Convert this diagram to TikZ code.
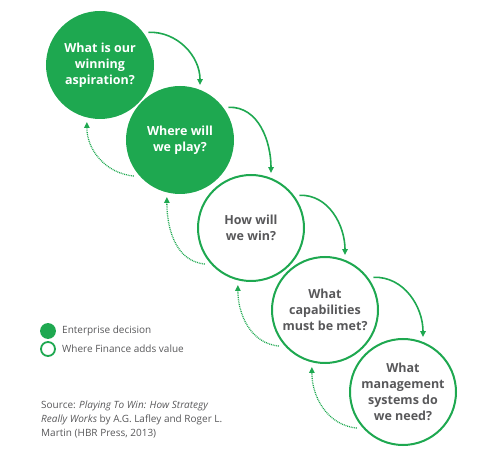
\documentclass[tikz,border=0pt]{standalone}
\usepackage{fontspec}
\setmainfont{Open Sans}
\usetikzlibrary{arrows.meta,calc}
\definecolor{pgreen}{RGB}{30,168,80}
\definecolor{tgray}{RGB}{88,88,90}
\begin{document}
\begin{tikzpicture}[x=1pt,y=1pt,
  bubble/.style={circle,minimum size=106pt,inner sep=0pt,outer sep=5.5pt,line width=2pt,draw=pgreen,align=center,font=\fontsize{12.5}{16}\selectfont\bfseries},
  filledb/.style={bubble,fill=pgreen,text=white},
  openb/.style={bubble,fill=white,text=tgray},
  fwd/.style={draw=pgreen,line width=1.6pt,-{Triangle[length=6pt,width=5.5pt]}},
  bwd/.style={draw=pgreen,line width=1.3pt,dash pattern=on 0.9pt off 0.9pt,-{Triangle[length=6pt,width=5.5pt]}},
  legtext/.style={anchor=west,text=tgray,font=\fontsize{10}{12}\selectfont,inner sep=0pt},
  legdot/.style={circle,minimum size=14pt,inner sep=0pt,draw=pgreen,line width=1.8pt}
]
\useasboundingbox (0,0) rectangle (480,464);
\node[filledb] (c1) at (100,399) {What is our\\winning\\aspiration?};
\node[filledb] (c2) at (180,324) {Where will\\we play?};
\node[openb] (c3) at (251,236) {How will\\we win?};
\node[openb] (c4) at (325,154) {What\\capabilities\\must be met?};
\node[openb] (c5) at (403,72) {What\\management\\systems do\\we need?};

\draw[fwd] (c1.34) to[out=2,in=90] (c2.70);
\draw[fwd] (c2.34) to[out=2,in=90] (c3.70);
\draw[fwd] (c3.34) to[out=2,in=90] (c4.70);
\draw[fwd] (c4.34) to[out=2,in=90] (c5.70);

\draw[bwd] (c2.218) to[out=175,in=-90] (c1.257);
\draw[bwd] (c3.218) to[out=175,in=-90] (c2.257);
\draw[bwd] (c4.218) to[out=175,in=-90] (c3.257);
\draw[bwd] (c5.218) to[out=175,in=-90] (c4.257);

\node[legdot,fill=pgreen] (l1) at (48,133) {};
\node[legdot,fill=white] (l2) at (48,115) {};
\node[legtext] (t1) at (62,133) {Enterprise decision};
\node[legtext] (t2) at (62,115) {Where Finance adds value};

\node[anchor=north west,align=left,text=tgray,inner sep=0pt,font=\fontsize{10}{14}\selectfont] (src) at (41,63)
 {Source: \textit{Playing To Win: How Strategy}\\\textit{Really Works} by A.G. Lafley and Roger L.\\Martin (HBR Press, 2013)};
\end{tikzpicture}
\end{document}
